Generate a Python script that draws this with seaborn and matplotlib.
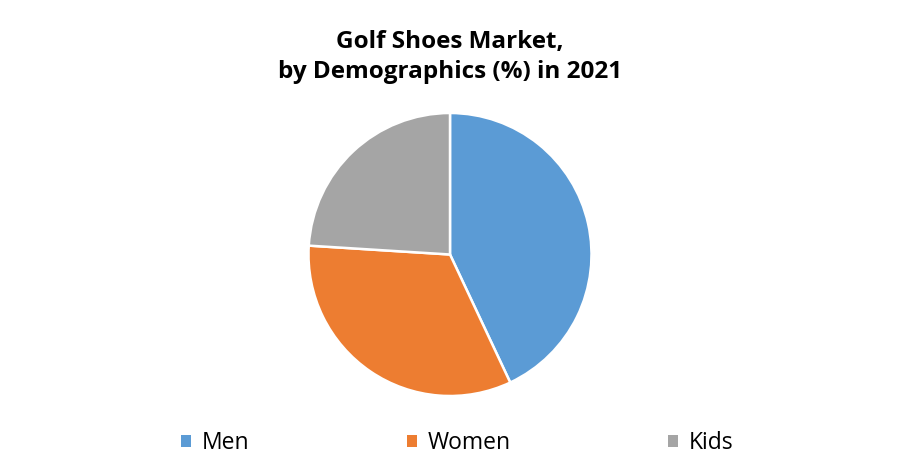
import matplotlib
matplotlib.use("Agg")
import matplotlib.pyplot as plt
import seaborn as sns
from matplotlib.patches import Patch

sns.set_theme(style="white")
plt.rcParams['font.family'] = ['Open Sans', 'DejaVu Sans']

categories = ["Men", "Women", "Kids"]
values = [43, 33, 24]
colors = ["#5B9BD5", "#ED7D31", "#A5A5A5"]
title = "Golf Shoes Market,\nby Demographics (%) in 2021"

fig = plt.figure(figsize=(9, 4.75), dpi=100)
fig.patch.set_facecolor("white")
cx, cy, r = 450 / 900, 1 - 254.5 / 475, 141.5
ax = fig.add_axes([cx - r / 900, cy - r / 475, 2 * r / 900, 2 * r / 475])
wedges, _ = ax.pie(values, colors=colors, startangle=90, counterclock=False,
                   wedgeprops=dict(edgecolor="white", linewidth=1.8))
ax.set_xlim(-1, 1)
ax.set_ylim(-1, 1)
ax.axis("off")

fig.text(0.5, 1 - 57 / 475, title, ha="center", va="center", fontsize=17.5,
         fontweight="bold", linespacing=1.35, color="black")

handles = [Patch(facecolor=c, edgecolor="none") for c in colors]
leg = fig.legend(handles, categories, loc="center", bbox_to_anchor=(457 / 900, 1 - 443 / 475),
                 ncol=3, frameon=False, fontsize=16.5, handlelength=0.45, handleheight=0.45,
                 handletextpad=0.45, columnspacing=6.88, labelcolor="black")

fig.savefig("out.png", dpi=100, facecolor="white")
